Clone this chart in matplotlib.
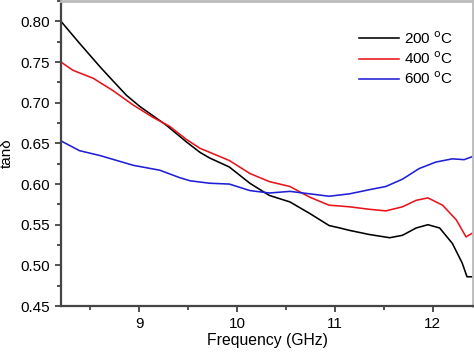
import matplotlib.pyplot as plt
from matplotlib.ticker import MultipleLocator

plt.rcParams['font.family'] = ['Liberation Sans', 'DejaVu Sans']

f_200 = [8.20, 8.39, 8.60, 8.73, 8.87, 9.01, 9.14, 9.28, 9.48, 9.62, 9.72, 9.92, 10.13, 10.33,
         10.54, 10.74, 10.94, 11.05, 11.15, 11.35, 11.56, 11.69, 11.83, 11.95, 12.07, 12.20,
         12.30, 12.35, 12.41]
t_200 = [0.800, 0.773, 0.744, 0.727, 0.709, 0.695, 0.684, 0.672, 0.652, 0.639, 0.632, 0.621,
         0.601, 0.586, 0.578, 0.564, 0.549, 0.546, 0.543, 0.538, 0.534, 0.537, 0.546, 0.550,
         0.546, 0.527, 0.503, 0.486, 0.486]

f_400 = [8.20, 8.32, 8.53, 8.73, 8.94, 9.14, 9.31, 9.48, 9.62, 9.72, 9.92, 10.13, 10.33, 10.54,
         10.74, 10.94, 11.05, 11.15, 11.35, 11.52, 11.69, 11.83, 11.95, 12.10, 12.24, 12.34, 12.41]
t_400 = [0.750, 0.740, 0.730, 0.715, 0.697, 0.682, 0.671, 0.655, 0.644, 0.639, 0.629, 0.613,
         0.603, 0.597, 0.584, 0.574, 0.573, 0.572, 0.569, 0.567, 0.572, 0.580, 0.583, 0.574,
         0.556, 0.535, 0.540]

f_600 = [8.20, 8.39, 8.60, 8.94, 9.21, 9.41, 9.52, 9.72, 9.92, 10.13, 10.33, 10.54, 10.74, 10.94,
         11.15, 11.35, 11.52, 11.69, 11.86, 12.03, 12.20, 12.32, 12.41]
t_600 = [0.653, 0.641, 0.635, 0.623, 0.617, 0.608, 0.604, 0.601, 0.600, 0.592, 0.589, 0.591,
         0.588, 0.585, 0.588, 0.593, 0.597, 0.606, 0.619, 0.627, 0.631, 0.630, 0.634]

fig = plt.figure(figsize=(4.74, 3.53), dpi=100)
ax = fig.add_axes([0.1287, 0.133, 0.869, 0.864])

ax.plot(f_200, t_200, color='black', lw=1.15, label='200 $^{\\mathrm{o}}$C')
ax.plot(f_400, t_400, color='#e8141b', lw=1.15, label='400 $^{\\mathrm{o}}$C')
ax.plot(f_600, t_600, color='#1f1fd6', lw=1.15, label='600 $^{\\mathrm{o}}$C')

ax.set_xlim(8.2, 12.41)
ax.set_ylim(0.45, 0.825)
ax.xaxis.set_major_locator(MultipleLocator(1))
ax.xaxis.set_minor_locator(MultipleLocator(0.5))
ax.yaxis.set_major_locator(MultipleLocator(0.05))
ax.yaxis.set_minor_locator(MultipleLocator(0.025))
ax.yaxis.set_major_formatter(plt.FormatStrFormatter('%.2f'))
ax.tick_params(which='both', direction='out', labelsize=11, color='#333333', width=1.2)
ax.tick_params(which='major', length=4.5)
ax.tick_params(which='minor', length=3)

for s in ('left', 'bottom'):
    ax.spines[s].set_color('#444444')
    ax.spines[s].set_linewidth(1.6)
for s in ('top', 'right'):
    ax.spines[s].set_color('#bbbbbb')
    ax.spines[s].set_linewidth(2)

ax.set_xlabel('Frequency (GHz)', fontsize=11.3, labelpad=1)
ax.set_ylabel('tanδ', fontsize=11, labelpad=5)

ax.legend(loc='upper right', bbox_to_anchor=(0.985, 0.95), frameon=False, fontsize=11,
          handlelength=2.6, handletextpad=0.3, labelspacing=0.25)

fig.savefig('out.png', dpi=100)
